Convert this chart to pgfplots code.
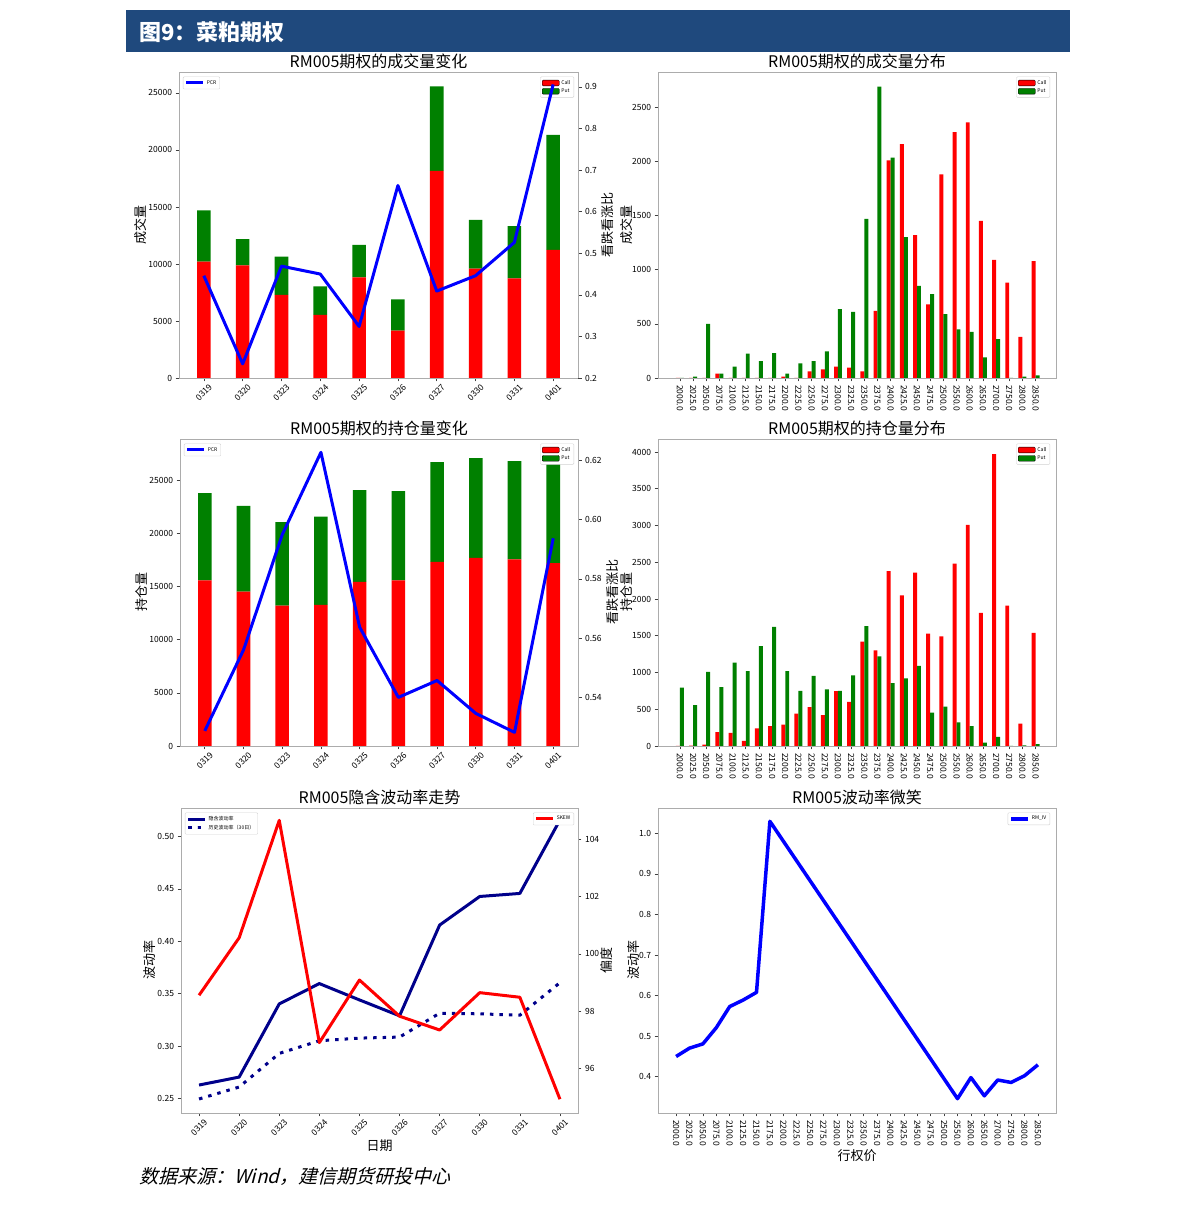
\documentclass[border=0pt]{standalone}
\usepackage{fontspec}
\setmainfont{Noto Sans CJK SC}
\newfontfamily\slantfont[FakeSlant=0.25]{Noto Sans CJK SC}
\usepackage{pgfplots}
\usepackage{pgfplotstable}
\pgfplotsset{compat=1.18}
\definecolor{hdr}{HTML}{1F497D}
\definecolor{cgreen}{HTML}{008000}
\definecolor{navy}{HTML}{00008B}

\pgfplotstableread{
i c p
0 0 0
1 0 12
2 0 500
3 40 40
4 0 105
5 0 225
6 0 155
7 0 230
8 12 40
9 0 135
10 60 155
11 80 245
12 105 635
13 95 610
14 60 1470
15 620 2690
16 2010 2035
17 2160 1300
18 1320 850
19 680 775
20 1880 590
21 2270 450
22 2360 425
23 1450 190
24 1090 360
25 880 0
26 380 12
27 1080 25
}\voldist

\pgfplotstableread{
i c p
0 0 795
1 5 555
2 20 1010
3 190 800
4 180 1135
5 70 1020
6 240 1360
7 270 1620
8 290 1020
9 440 750
10 530 955
11 420 770
12 745 750
13 600 960
14 1420 1630
15 1300 1220
16 2380 855
17 2050 920
18 2360 1090
19 1530 455
20 1490 535
21 2480 320
22 3010 270
23 1810 45
24 3970 125
25 1910 0
26 305 8
27 1540 25
}\oidist

\pgfplotsset{
  base/.style={
    scale only axis,
    anchor=south west,
    axis line style={gray!65, line width=0.8pt},
    tick style={black!75, line width=0.6pt},
    major tick length=3.5pt,
    tick align=outside,
    ticklabel style={font=\fontsize{8.5}{10}\selectfont},
    scaled y ticks=false,
    /pgf/number format/assume math mode=true,
    /pgf/number format/1000 sep={},
    title style={font=\fontsize{16}{18}\selectfont, yshift=-6pt},
    label style={font=\fontsize{13}{15}\selectfont},
    legend style={font=\fontsize{5}{6}\selectfont, draw=gray!35, rounded corners=1pt, inner sep=1.5pt, row sep=-1pt},
    legend cell align=left,
  },
  rightax/.style={axis y line*=right, axis x line=none, ylabel shift=-2pt},
  datex/.style={
    xtick={0,...,9},
    xticklabels={0319,0320,0323,0324,0325,0326,0327,0330,0331,0401},
    xticklabel style={yshift=-11pt, rotate=45, anchor=center},
    ylabel shift=-5pt,
  },
  strikex/.style={
    xticklabels={2000.0,2025.0,2050.0,2075.0,2100.0,2125.0,2150.0,2175.0,2200.0,2225.0,2250.0,2275.0,2300.0,2325.0,2350.0,2375.0,2400.0,2425.0,2450.0,2475.0,2500.0,2550.0,2600.0,2650.0,2700.0,2750.0,2800.0,2850.0},
    xticklabel style={rotate=-90, anchor=west},
    ylabel shift=-7pt,
  },
}

\begin{document}
\begin{tikzpicture}[x=1pt,y=1pt]
\fill[white] (0,0) rectangle (1191,1207);
% header
\fill[hdr] (126,1155) rectangle (1070,1197);
\node[anchor=west, text=white, font=\fontsize{22}{24}\selectfont\bfseries, inner sep=0pt] at (139,1175) {图9：菜粕期权};
% footer
\node[anchor=west, font=\fontsize{19}{21}\selectfont\slantfont, inner sep=0pt] at (139,31) {数据来源：Wind，建信期货研投中心};

% ---------- Panel 1 ----------
\begin{axis}[base, datex, at={(179pt,829pt)}, width=399pt, height=306pt,
  xmin=-0.64, xmax=9.64, ymin=0, ymax=26840, tick pos=left,
  ytick={0,5000,10000,15000,20000,25000},
  ylabel={成交量}, title={RM005期权的成交量变化},
  ybar stacked, bar width=0.35,
  legend style={at={(0.99,0.985)}, anchor=north east}]
\addplot[fill=red, draw=none, area legend] coordinates {(0,10200)(1,9880)(2,7280)(3,5530)(4,8830)(5,4150)(6,18160)(7,9590)(8,8740)(9,11230)};
\addplot[fill=cgreen, draw=none, area legend] coordinates {(0,4500)(1,2310)(2,3360)(3,2510)(4,2840)(5,2750)(6,7420)(7,4270)(8,4590)(9,10090)};
\legend{Call,Put}
\end{axis}
\begin{axis}[base, rightax, at={(179pt,829pt)}, width=399pt, height=306pt,
  xmin=-0.64, xmax=9.64, ymin=0.2, ymax=0.936,
  ytick={0.2,0.3,0.4,0.5,0.6,0.7,0.8,0.9},
  yticklabel style={/pgf/number format/.cd, fixed, precision=1},
  ylabel={看跌看涨比},
  legend style={at={(0.01,0.985)}, anchor=north west}]
\addplot[blue, line width=3pt, line join=round] coordinates {(0,0.446)(1,0.234)(2,0.469)(3,0.450)(4,0.324)(5,0.663)(6,0.409)(7,0.446)(8,0.526)(9,0.906)};
\legend{PCR}
\end{axis}

% ---------- Panel 2 ----------
\begin{axis}[base, strikex, at={(658pt,829pt)}, width=398pt, height=306pt,
  xmin=-1.51, xmax=28.7, ymin=0, ymax=2826, tick pos=left,
  xtick={0.15,1.15,2.15,3.15,4.15,5.15,6.15,7.15,8.15,9.15,10.15,11.15,12.15,13.15,14.15,15.15,16.15,17.15,18.15,19.15,20.15,21.15,22.15,23.15,24.15,25.15,26.15,27.15},
  ytick={0,500,1000,1500,2000,2500},
  ylabel={成交量}, title={RM005期权的成交量分布},
  ybar, bar width=0.3,
  legend style={at={(0.985,0.985)}, anchor=north east}]
\addplot[fill=red, draw=none, bar shift=0pt, area legend] table[x=i, y=c] {\voldist};
\addplot[fill=cgreen, draw=none, bar shift=0pt, area legend] table[x expr=\thisrow{i}+0.3, y=p] {\voldist};
\legend{Call,Put}
\end{axis}

% ---------- Panel 3 ----------
\begin{axis}[base, datex, at={(180pt,461pt)}, width=398pt, height=307pt,
  xmin=-0.64, xmax=9.64, ymin=0, ymax=28900, tick pos=left,
  ytick={0,5000,10000,15000,20000,25000},
  ylabel={持仓量}, title={RM005期权的持仓量变化},
  ybar stacked, bar width=0.35,
  legend style={at={(0.99,0.985)}, anchor=north east}]
\addplot[fill=red, draw=none, area legend] coordinates {(0,15580)(1,14540)(2,13220)(3,13290)(4,15450)(5,15580)(6,17340)(7,17710)(8,17560)(9,17210)};
\addplot[fill=cgreen, draw=none, area legend] coordinates {(0,8230)(1,8070)(2,7850)(3,8290)(4,8640)(5,8410)(6,9390)(7,9390)(8,9260)(9,10290)};
\legend{Call,Put}
\end{axis}
\begin{axis}[base, rightax, at={(180pt,461pt)}, width=398pt, height=307pt,
  xmin=-0.64, xmax=9.64, ymin=0.5236, ymax=0.6272,
  ytick={0.54,0.56,0.58,0.60,0.62},
  yticklabel style={/pgf/number format/.cd, fixed, fixed zerofill, precision=2},
  ylabel={看跌看涨比},
  legend style={at={(0.01,0.985)}, anchor=north west}]
\addplot[blue, line width=3pt, line join=round] coordinates {(0,0.5287)(1,0.556)(2,0.5949)(3,0.6227)(4,0.5637)(5,0.54)(6,0.5457)(7,0.5346)(8,0.5282)(9,0.5937)};
\legend{PCR}
\end{axis}

% ---------- Panel 4 ----------
\begin{axis}[base, strikex, at={(658pt,461pt)}, width=398pt, height=307pt,
  xmin=-1.51, xmax=28.7, ymin=0, ymax=4177, tick pos=left,
  xtick={0.15,1.15,2.15,3.15,4.15,5.15,6.15,7.15,8.15,9.15,10.15,11.15,12.15,13.15,14.15,15.15,16.15,17.15,18.15,19.15,20.15,21.15,22.15,23.15,24.15,25.15,26.15,27.15},
  ytick={0,500,1000,1500,2000,2500,3000,3500,4000},
  ylabel={持仓量}, title={RM005期权的持仓量分布},
  ybar, bar width=0.3,
  legend style={at={(0.985,0.985)}, anchor=north east}]
\addplot[fill=red, draw=none, bar shift=0pt, area legend] table[x=i, y=c] {\oidist};
\addplot[fill=cgreen, draw=none, bar shift=0pt, area legend] table[x expr=\thisrow{i}+0.3, y=p] {\oidist};
\legend{Call,Put}
\end{axis}

% ---------- Panel 5 ----------
\begin{axis}[base, datex, at={(181pt,94pt)}, width=397pt, height=305pt,
  xmin=-0.45, xmax=9.45, ymin=0.236, ymax=0.5273, tick pos=left,
  ytick={0.25,0.30,0.35,0.40,0.45,0.50},
  yticklabel style={/pgf/number format/.cd, fixed, fixed zerofill, precision=2},
  xlabel={日期}, xlabel shift=-5pt, ylabel={波动率}, title={RM005隐含波动率走势},
  legend style={at={(0.01,0.985)}, anchor=north west}]
\addplot[navy, line width=3pt, line join=round] coordinates {(0,0.2627)(1,0.2703)(2,0.3402)(3,0.3596)(4,0.344)(5,0.3288)(6,0.4155)(7,0.4428)(8,0.4457)(9,0.5159)};
\addplot[navy, line width=3pt, dash pattern=on 3.5pt off 6pt] coordinates {(0,0.2494)(1,0.2608)(2,0.2929)(3,0.305)(4,0.3075)(5,0.3085)(6,0.3313)(7,0.3307)(8,0.3294)(9,0.3605)};
\legend{隐含波动率,历史波动率（30日）}
\end{axis}
\begin{axis}[base, rightax, at={(181pt,94pt)}, width=397pt, height=305pt,
  xmin=-0.45, xmax=9.45, ymin=94.46, ymax=105.08,
  ytick={96,98,100,102,104},
  ylabel={偏度}, ylabel shift=-6pt,
  legend style={at={(0.99,0.985)}, anchor=north east}]
\addplot[red, line width=3pt, line join=round] coordinates {(0,98.56)(1,100.56)(2,104.65)(3,96.91)(4,99.09)(5,97.83)(6,97.35)(7,98.65)(8,98.49)(9,94.94)};
\legend{SKEW}
\end{axis}

% ---------- Panel 6 ----------
\begin{axis}[base, strikex, at={(658pt,94pt)}, width=398pt, height=305pt,
  xmin=-1.35, xmax=28.35, ymin=0.3107, ymax=1.0623, tick pos=left,
  xtick={0,...,27},
  ytick={0.4,0.5,0.6,0.7,0.8,0.9,1.0},
  yticklabel style={/pgf/number format/.cd, fixed, fixed zerofill, precision=1},
  xlabel={行权价}, xlabel shift=-3pt, ylabel={波动率}, ylabel shift=-7pt, title={RM005波动率微笑},
  legend style={at={(0.985,0.985)}, anchor=north east}]
\addplot[blue, line width=3.5pt, line join=round] coordinates {(0,0.45)(1,0.4705)(2,0.481)(3,0.521)(4,0.573)(5,0.589)(6,0.608)(7,1.0295)(21,0.346)(22,0.398)(23,0.353)(24,0.392)(25,0.386)(26,0.4025)(27,0.4295)};
\legend{RM\_IV}
\end{axis}
\end{tikzpicture}
\end{document}
